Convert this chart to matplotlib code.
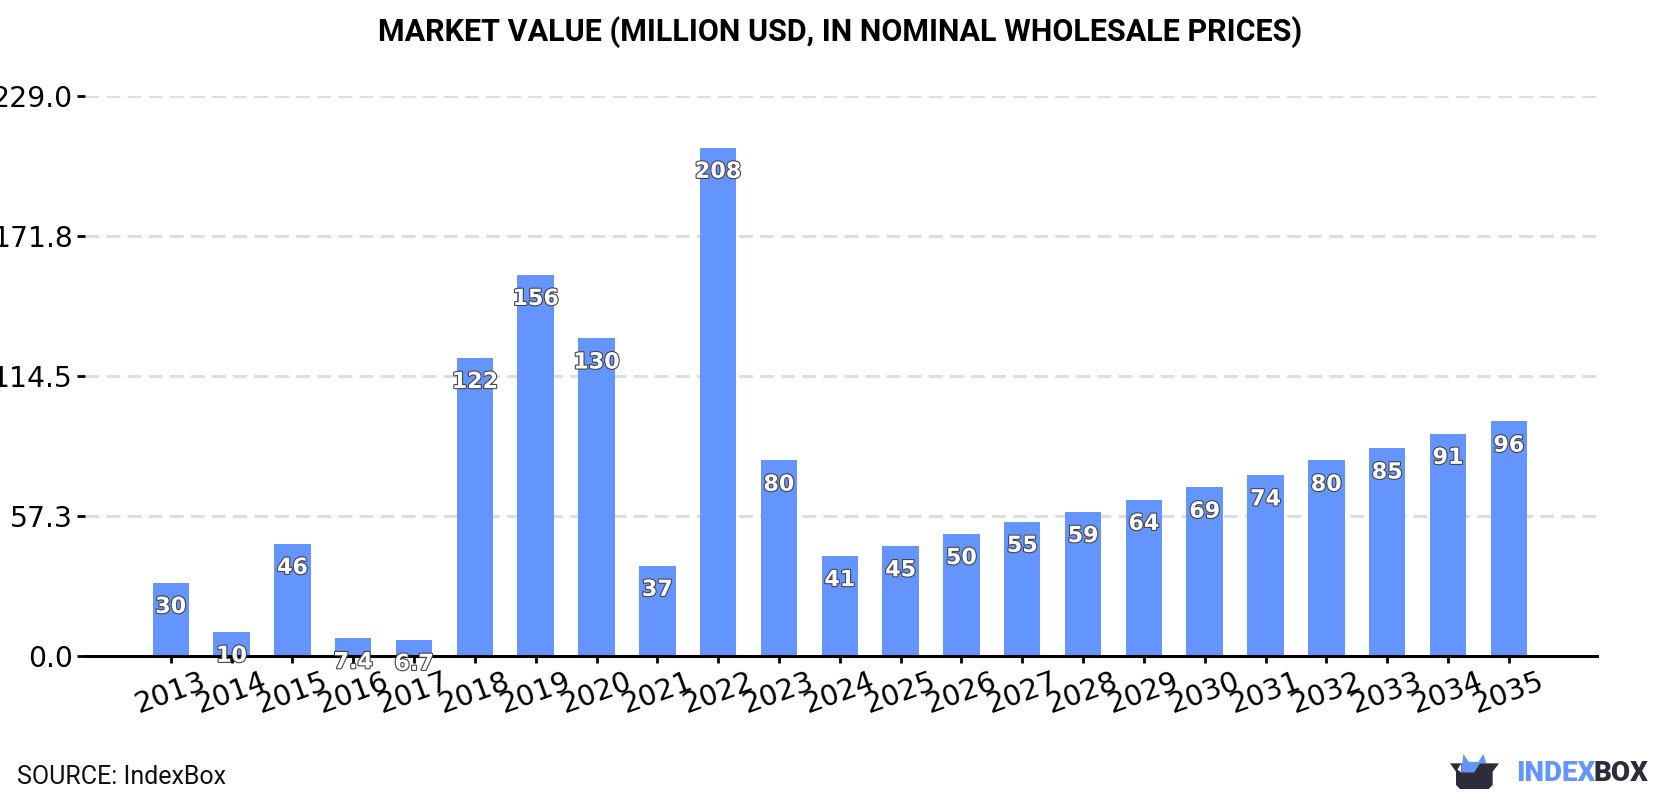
import matplotlib
matplotlib.use("Agg")
import matplotlib.pyplot as plt
import matplotlib.patheffects as pe
from matplotlib.patches import Polygon

years = list(range(2013, 2036))
values = [30, 10, 46, 7.4, 6.7, 122, 156, 130, 37, 208, 80, 41, 45, 50, 55, 59, 64, 69, 74, 80, 85, 91, 96]
value_labels = ["30", "10", "46", "7.4", "6.7", "122", "156", "130", "37", "208", "80", "41", "45", "50",
                "55", "59", "64", "69", "74", "80", "85", "91", "96"]
y_ticks = [0.0, 57.3, 114.5, 171.8, 229.0]

BLUE = "#6495ff"
DARK = "#2b2d3a"
W, H = 1680, 800

fig = plt.figure(figsize=(W / 100, H / 100), dpi=100, facecolor="white")
ax = fig.add_axes([85 / W, (H - 656) / H, (1597 - 85) / W, (656 - 96.2) / H])

ax.bar(years, values, width=0.6, color=BLUE, zorder=3)
ax.set_xlim(2013 - 1.41, 2013 + 23.45)
ax.set_ylim(0, 229)

ax.set_yticks(y_ticks)
ax.set_yticklabels([f"{t:.1f}" for t in y_ticks])
ax.set_xticks(years)
ax.set_xticklabels([str(y) for y in years], rotation=20, ha="center", rotation_mode="default")
ax.tick_params(axis="y", labelsize=20.3, length=5.5, width=2, pad=3, colors="black")
ax.tick_params(axis="x", labelsize=20.8, length=5, width=2, pad=3, colors="black")

ax.grid(axis="y", color="#dedede", linewidth=2.2, linestyle=(0, (4.5, 2.4)), zorder=1)
ax.set_axisbelow(True)
for side in ("top", "left", "right"):
    ax.spines[side].set_visible(False)
ax.spines["bottom"].set_linewidth(2.2)
ax.spines["bottom"].set_zorder(4)

# Value labels sit a fixed distance below each bar top
for year, value, label in zip(years, values, value_labels):
    ax.annotate(label, (year, value), xytext=(0, -17.5), textcoords="offset points",
                ha="center", va="center", fontsize=16, fontweight="bold", color="white",
                zorder=6, annotation_clip=False,
                path_effects=[pe.withStroke(linewidth=1.6, foreground="#444444")])

fig.text(840 / W, 1 - 32.5 / H, "MARKET VALUE (MILLION USD, IN NOMINAL WHOLESALE PRICES)",
         family="Roboto", fontweight="bold", fontsize=22, ha="center", va="center", color="black")
fig.text(17 / W, 1 - 777 / H, "SOURCE: IndexBox", family="Roboto", fontsize=18,
         ha="left", va="center", color="#111111")

# Logo drawn in its own small axes
logo = fig.add_axes([1400 / W, 0, 280 / W, 70 / H])
logo.set_xlim(0, 840)
logo.set_ylim(210, 0)
logo.axis("off")
logo.add_patch(Polygon([(184, 125), (190, 72), (207, 96), (235, 96), (250, 72), (259, 100),
                        (240, 100), (222, 128)], closed=True, color=BLUE, lw=0, zorder=2))
logo.add_patch(Polygon([(150, 100), (240, 100), (222, 128), (184, 128), (184, 100), (168, 125)],
                       closed=True, color=DARK, lw=0, zorder=1))
logo.add_patch(Polygon([(240, 100), (297, 100), (278, 125), (278, 165), (266, 177), (180, 177),
                        (168, 165), (168, 115), (184, 128), (222, 128)],
                       closed=True, color=DARK, lw=0, zorder=3))
logo.text(347, 131, "INDEX", family="Roboto", fontweight="black", fontsize=20, color=BLUE,
          ha="left", va="center")
logo.text(581, 131, "BOX", family="Roboto", fontweight="black", fontsize=20, color=DARK,
          ha="left", va="center")

fig.savefig("out.png", dpi=100, facecolor="white")
